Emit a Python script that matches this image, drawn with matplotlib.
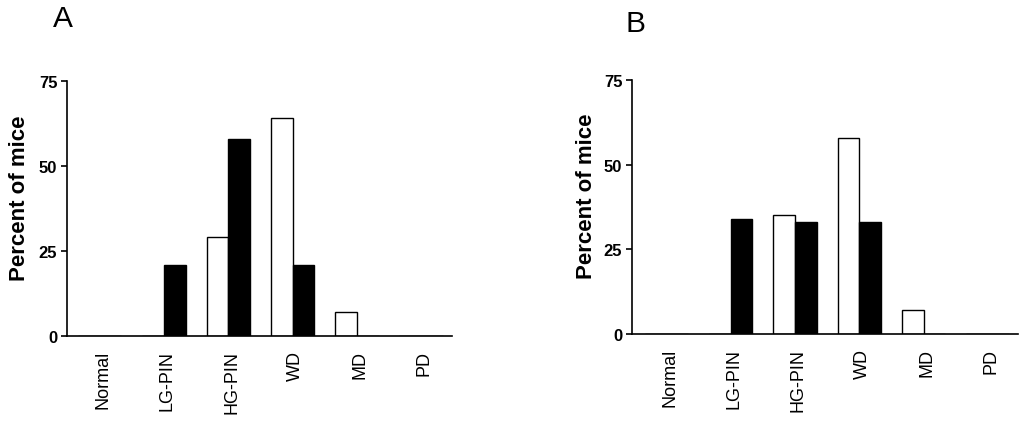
import matplotlib
matplotlib.use("Agg")
import matplotlib.pyplot as plt
import numpy as np

plt.rcParams['font.family'] = ['Liberation Sans', 'DejaVu Sans']

# grades of lesions
categories = ["Normal", "LG-PIN", "HG-PIN", "WD", "MD", "PD"]

# panel A (percent of mice)
a_open = [0, 0, 29, 64, 7, 0]
a_filled = [0, 21, 58, 21, 0, 0]

# panel B (percent of mice)
b_open = [0, 0, 35, 58, 7, 0]
b_filled = [0, 34, 33, 33, 0, 0]

y_ticks = [0, 25, 50, 75]


def draw_panel(ax, open_vals, filled_vals, xlim, label_x):
    x = np.arange(len(categories))
    w = 0.337
    ax.bar(x - w / 2, open_vals, w, color='white', edgecolor='black', linewidth=1.0)
    ax.bar(x + w / 2, filled_vals, w, color='black', edgecolor='black', linewidth=1.0)

    ax.set_xlim(*xlim)
    ax.set_ylim(0, 75)
    ax.set_yticks(y_ticks)
    ax.set_yticklabels([str(t) for t in y_ticks], fontsize=12, fontweight='bold')
    ax.tick_params(axis='y', direction='out', length=4, width=1.2, pad=3)

    ax.set_xticks(x + 0.05)
    ax.set_xticklabels(categories, rotation=90, fontsize=13, va='top')
    ax.tick_params(axis='x', length=0, pad=10)

    for side in ['top', 'right']:
        ax.spines[side].set_visible(False)
    for side in ['left', 'bottom']:
        ax.spines[side].set_linewidth(1.2)

    ax.set_ylabel("Percent of mice", fontsize=16, fontweight='bold')
    ax.yaxis.set_label_coords(label_x, 0.545)


fig = plt.figure(figsize=(10.24, 4.27), dpi=100)
ax_a = fig.add_axes([67 / 1024, 90 / 427, 385 / 1024, 255 / 427])
ax_b = fig.add_axes([632 / 1024, 92 / 427, 386 / 1024, 254 / 427])

draw_panel(ax_a, a_open, a_filled, (-0.51, 5.48), -0.096)
draw_panel(ax_b, b_open, b_filled, (-0.535, 5.47), -0.091)

fig.text(53 / 1024, 1 - 27 / 427, "A", fontsize=21.5, ha='left', va='baseline')
fig.text(625 / 1024, 1 - 32 / 427, "B", fontsize=21.5, ha='left', va='baseline')

fig.savefig("out.png", dpi=100)
